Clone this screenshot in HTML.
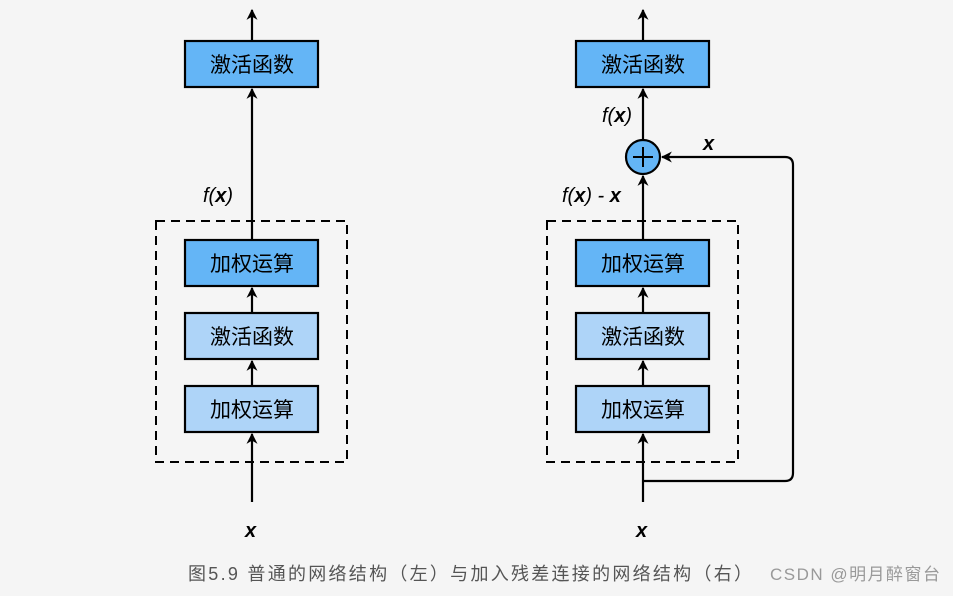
<!DOCTYPE html>
<html><head><meta charset="utf-8"><style>
body{margin:0;background:#f5f5f5;}
svg text{font-family:"Liberation Sans","Noto Sans CJK SC",sans-serif;}
</style></head><body>
<svg width="953" height="591" viewBox="0 0 953 591" xmlns="http://www.w3.org/2000/svg">
<defs><marker id="a" viewBox="0 0 10 10" refX="9" refY="5" markerWidth="5" markerHeight="5" orient="auto"><path d="M0,0 L10,5 L0,10 L3,5 z" fill="#000"/></marker></defs>
<rect width="953" height="591" fill="#f5f5f5"/>
<g stroke="#000" stroke-width="2.2" fill="none" marker-end="url(#a)">
<line x1="252" y1="41" x2="252" y2="10"/>
<line x1="252" y1="240" x2="252" y2="89"/>
<line x1="252" y1="313" x2="252" y2="288"/>
<line x1="252" y1="386" x2="252" y2="361"/>
<line x1="252" y1="502" x2="252" y2="434"/>
<line x1="643" y1="41" x2="643" y2="10"/>
<line x1="643" y1="140" x2="643" y2="89"/>
<line x1="643" y1="240" x2="643" y2="176"/>
<line x1="643" y1="313" x2="643" y2="288"/>
<line x1="643" y1="386" x2="643" y2="361"/>
<line x1="643" y1="502" x2="643" y2="434"/>
<path d="M643,481 H785 Q793,481 793,473 V165 Q793,157 785,157 H662"/>
</g>
<g stroke="#000" stroke-width="2" stroke-dasharray="9,6" fill="none">
<rect x="156" y="221" width="191" height="241"/>
<rect x="547" y="221" width="191" height="241"/>
</g>
<g stroke="#000" stroke-width="2.2" font-size="21">
<rect x="185" y="41" width="133" height="46" fill="#64b5f6"/>
<rect x="185" y="240" width="133" height="46" fill="#64b5f6"/>
<rect x="185" y="313" width="133" height="46" fill="#aed4f8"/>
<rect x="185" y="386" width="133" height="46" fill="#aed4f8"/>
<rect x="576" y="41" width="133" height="46" fill="#64b5f6"/>
<rect x="576" y="240" width="133" height="46" fill="#64b5f6"/>
<rect x="576" y="313" width="133" height="46" fill="#aed4f8"/>
<rect x="576" y="386" width="133" height="46" fill="#aed4f8"/>
<circle cx="643" cy="157" r="17" fill="#64b5f6"/>
</g>
<path d="M633,157 H653 M643,147 V167" stroke="#000" stroke-width="2"/>
<g font-size="21" text-anchor="middle" fill="#000">
<text x="252" y="72">激活函数</text>
<text x="252" y="271">加权运算</text>
<text x="252" y="344">激活函数</text>
<text x="252" y="417">加权运算</text>
<text x="643" y="72">激活函数</text>
<text x="643" y="271">加权运算</text>
<text x="643" y="344">激活函数</text>
<text x="643" y="417">加权运算</text>
</g>
<g font-size="20" font-style="italic" fill="#000">
<text x="203" y="202">f(<tspan font-weight="bold">x</tspan>)</text>
<text x="602" y="122">f(<tspan font-weight="bold">x</tspan>)</text>
<text x="562" y="202">f(<tspan font-weight="bold">x</tspan>) - <tspan font-weight="bold">x</tspan></text>
<text x="703" y="150" font-weight="bold">x</text>
<text x="245" y="537" font-weight="bold">x</text>
<text x="636" y="537" font-weight="bold">x</text>
</g>
<text x="188" y="580" font-size="18" fill="#555" textLength="564" lengthAdjust="spacing">图5.9 普通的网络结构（左）与加入残差连接的网络结构（右）</text>
<text x="770" y="580" font-size="17" fill="#999" textLength="170" lengthAdjust="spacing">CSDN @明月醉窗台</text>
</svg>
</body></html>
